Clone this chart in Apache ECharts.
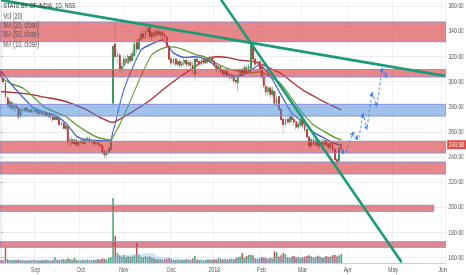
<!DOCTYPE html>
<html><head><meta charset="utf-8">
<script src="https://cdn.jsdelivr.net/npm/echarts@6/dist/echarts.min.js"></script>
<style>
html,body{margin:0;padding:0;background:#fff;overflow:hidden}
#wrap{width:466px;height:275px;overflow:hidden;position:relative}
#c{width:699px;height:275px;transform:scaleX(0.666667);transform-origin:0 0;position:absolute;left:0;top:0}
</style>
</head><body><div id="wrap"><div id="c"></div></div>
<script>
// ---------- data ----------
const title = 'STATE BK OF INDIA, 1D, NSE';
const legendLabels = ['Vol (20)', 'MA (20, close)', 'MA (50, close)', 'MA (10, close)'];
const slotCount = 207; // trading-day slots shown (history + future space)
const monthTickIdx = [16, 37, 57, 79, 99, 121, 140, 161, 182, 205];
const monthTickLabels = ['Sep', 'Oct', 'Nov', 'Dec', '2018', 'Feb', 'Mar', 'Apr', 'May', 'Jun'];
const yTicks = [160, 180, 200, 220, 240, 260, 280, 300, 320, 340, 360];

// [open, close, low, high]
const ohlc = [
[308,304,302,310],[303,300,298,305],[299,288,285,300],[287,281,279,289],[280,284,278,286],
[283,279,277,285],[278,282,276,284],[282,279,276,283],[279,272,270,280],[273,278,271,279],
[278,277,275,281],[277,279,276,280],[279,277,276,281],[277,276,275,279],[276,278,275,279],
[278,276,274,279],[276,277,275,279],[277,275,274,278],[275,276,273,278],[276,274,273,277],
[274,275,272,277],[275,273,272,276],[273,274,271,276],[274,272,270,275],[272,270,268,273],
[270,272,269,274],[272,270,268,273],[270,266,265,271],[266,267,264,269],[267,263,262,268],
[263,265,261,267],[264,252,250,265],[252,254,249,256],[254,251,249,256],[251,253,250,255],
[253,250,248,255],[250,252,248,254],[252,253,250,255],[253,251,249,254],[251,254,250,256],
[254,255,252,257],[255,252,251,256],[252,253,250,255],[253,251,249,254],[251,252,249,253],
[252,250,248,253],[250,249,247,252],[249,244,242,250],[244,242,239,246],[242,244,240,246],
[244,247,242,248],[246,254,245,256],[283,328,280,330],[330,320,316,351],[320,322,314,326],
[321,310,308,323],[310,312,307,315],[313,318,311,320],[318,315,313,321],[315,320,314,322],
[320,317,315,323],[317,322,316,325],[321,330,320,332],[331,326,323,334],[326,334,325,336],
[334,338,332,342],[338,335,333,343],[335,340,334,344],[340,342,338,347],[343,336,335,347],
[336,339,333,341],[339,337,334,341],[337,340,335,342],[340,338,336,342],[338,339,335,341],
[339,337,334,341],[337,336,333,339],[335,328,327,336],[328,318,316,329],[318,315,312,320],
[315,318,313,320],[318,314,312,319],[314,316,312,318],[316,313,311,318],[313,315,311,317],
[315,317,313,319],[317,314,312,318],[314,315,312,317],[315,313,310,317],[313,310,306,316],
[306,318,301,320],[318,316,314,320],[316,314,312,318],[314,317,312,319],[317,315,313,318],
[315,318,314,320],[318,316,314,319],[316,319,315,321],[319,316,314,320],[316,313,311,317],
[313,310,308,314],[310,312,308,314],[312,308,306,313],[308,306,304,310],[306,308,304,310],
[308,305,303,309],[305,303,301,307],[303,304,301,306],[304,301,299,305],[301,300,298,303],
[299,305,293,306],[305,309,304,311],[309,307,305,311],[307,311,306,313],[311,308,306,313],
[308,312,307,314],[310,330,309,333],[330,318,316,333],[318,314,311,320],[314,316,312,318],
[316,310,308,317],[312,304,302,314],[304,297,295,305],[296,292,289,298],[292,295,289,297],
[295,290,287,296],[290,293,288,296],[292,283,281,293],[283,286,280,288],[288,278,276,289],
[278,270,268,279],[270,266,258,272],[266,270,264,272],[270,268,266,274],[268,272,266,275],
[272,270,267,275],[270,268,265,272],[268,264,262,270],[264,266,262,268],[266,270,264,272],
[270,265,263,271],[265,262,260,267],[262,256,255,263],[256,249,247,258],[249,254,246,256],
[254,250,248,256],[250,253,248,255],[253,249,247,255],[249,252,246,254],[252,250,248,254],
[250,253,248,255],[253,250,248,255],[250,248,246,252],[248,251,246,253],[251,246,244,252],
[246,238,236,247],[238,236,234,240],[237,247,235,248],[246,249.9,245,252]
];

const volume = [
9,8,50,12,9,8,10,9,11,8,
9,8,7,9,8,10,8,7,9,8,
9,10,8,7,9,18,10,9,11,12,
10,14,12,9,16,10,9,8,10,9,
11,9,8,10,9,12,10,14,13,11,
16,18,203,84,31,24,20,25,18,22,
19,21,24,62,26,20,18,22,19,21,
17,15,12,11,13,10,12,14,16,12,
10,9,11,8,10,9,12,10,9,14,
22,11,9,10,8,9,11,10,9,12,
10,16,12,11,13,10,12,14,11,15,
18,20,31,16,22,25,26,24,15,13,
14,19,17,15,12,16,14,36,33,20,
24,31,28,18,16,20,22,17,19,15,
18,20,22,24,21,17,19,23,20,16,
18,22,19,20,24,25,21,24,28
];

const maIdx = [0,5,10,15,20,25,30,35,40,45,50,51,52,53,55,57,60,65,70,75,80,85,90,95,100,105,110,115,120,125,130,135,140,145,150,155,158];
const ma10 = [308.6,297.5,287.9,279.1,275.9,273.1,267.2,256.8,253.6,253.2,252.8,253.6,260.8,266.4,281.5,293.5,307,325.3,330.1,333.3,322.9,319.4,319.8,317.8,312.2,306.6,304.2,307.8,313.4,304.6,289.5,275.1,268,260,255.2,250.8,249.6];
const ma20 = [303,298.2,295.1,287.9,279.9,275.9,272.4,265.6,260,255.6,253.6,253.2,256,259.5,265.6,273,284.7,304.6,321.4,326.5,327.7,325.3,321.8,319.4,314.6,310.6,308.6,307,307.8,304.1,298.2,286.7,275.1,265.6,260.4,255.6,253.6];
const ma50 = [292.1,291.5,290.7,289.5,287.7,286.3,284.3,281.1,277.5,272.4,268.4,268,267.6,268.2,270,272,275.1,280.3,286.3,293.5,300.1,306.2,311.8,318.2,319.8,319.4,317.4,316.6,314.6,310.6,306.6,299.8,293.5,288.7,283.9,279.9,277.5];

const volMaIdx = [0,20,40,51,52,54,60,63,71,72,75,80,90,100,110,116,125,135,145,158];
const volMa = [10,10,10,12,21,25,26,29,31,22,19,14,12,11,13,16,17,18,18,19];

// price zones: [bottom, top, rightEndSlot(optional)]
const redZones = [[331.8,347.5],[303.8,309.7],[243.3,252.6],[226.6,236.1],[196.9,201.7,201],[168.3,172.7]];
const blueZones = [[272.7,282.0]];

// trend lines: [[slot, price],[slot, price]]
const trendLines = [[[0,364.9],[206,304.7]], [[102,365.6],[186,156.4]]];

// projected path (dashed arrows)
const projection = [
[[156.0,252.0],[159.3,242.5]],
[[160.2,244.1],[163.5,260.0]],
[[163.5,260.0],[165.8,253.6]],
[[166.2,255.2],[168.1,275.1]],
[[168.1,275.1],[170.0,261.6]],
[[170.0,264.0],[172.3,291.8]],
[[172.3,291.8],[174.6,279.9]],
[[174.6,281.5],[176.9,310.9]],
[[176.9,310.9],[179.2,303.0]]
];

// ---------- build ----------
const FONT = '"Liberation Sans", Arial, sans-serif';
const tickMap = {};
monthTickIdx.forEach((idx, k) => { tickMap[idx] = monthTickLabels[k]; });
const cats = [];
for (let i = 0; i < slotCount; i++) cats.push(String(i));
const isTick = (i) => tickMap[i] !== undefined;

const UP = '#3a9b5c', DOWN = '#b9443f';
const bodies = ohlc.map(([o, c]) => [o, c, Math.min(o, c), Math.max(o, c)]);
const volData = volume.map((v, i) => ({
  value: v,
  itemStyle: { color: ohlc[i][1] >= ohlc[i][0] ? 'rgba(40,160,85,0.9)' : 'rgba(185,60,65,0.9)' }
}));
const pairs = (idx, vals) => idx.map((x, k) => [x, vals[k]]);
const zoneData = (zones) => zones.map(z => [
  { yAxis: z[0] },
  z[2] != null ? { xAxis: z[2], yAxis: z[1] } : { yAxis: z[1] }
]);
const lastClose = ohlc[ohlc.length - 1][1];

const legendTops = [2.2, 12.3, 21.7, 31.0, 41.0];
const graphicTexts = [title].concat(legendLabels).map((t, k) => ({
  type: 'text', left: 5, top: legendTops[k], z: 100,
  style: { text: t, fontSize: k === 0 ? 7.9 : 8.3, fontFamily: FONT, fill: k === 0 ? '#333' : '#555' }
}));

const chart = echarts.init(document.getElementById('c'), null, { renderer: 'canvas' });
chart.setOption({
  animation: false,
  backgroundColor: '#ffffff',
  textStyle: { fontFamily: FONT },
  grid: { left: 0, right: 30.4, top: 0, bottom: 12 },
  graphic: graphicTexts,
  xAxis: [
    {
      type: 'category', data: cats, boundaryGap: true,
      axisLine: { lineStyle: { color: '#cfcfcf' } },
      axisTick: { show: false },
      axisLabel: {
        interval: (i) => isTick(i),
        formatter: (v) => tickMap[+v] || '',
        fontSize: 7.8, color: '#555', margin: 3.2
      },
      splitLine: { show: true, interval: (i) => isTick(i), lineStyle: { color: '#eeeeee', width: 1 } }
    },
    { type: 'value', min: -0.5, max: slotCount - 0.5, show: false }
  ],
  yAxis: [
    {
      type: 'value', position: 'right', min: 155.8, max: 365, splitNumber: 10, scale: true,
      axisLine: { show: true, lineStyle: { color: '#b5b5b5' } },
      axisTick: { show: true, length: 3, customValues: yTicks, lineStyle: { color: '#b5b5b5' } },
      axisLabel: { customValues: yTicks, formatter: (v) => v.toFixed(2), fontSize: 7.5, color: '#555', margin: 4 },
      splitLine: { show: true, lineStyle: { color: '#eeeeee', width: 1 } }
    },
    { type: 'value', min: 0, max: 822, show: false }
  ],
  series: [
    { name: 'Vol', type: 'bar', yAxisIndex: 1, barWidth: '72%', data: volData, z: 1 },
    { name: 'VolMA', type: 'line', xAxisIndex: 1, yAxisIndex: 1, data: pairs(volMaIdx, volMa),
      symbol: 'none', lineStyle: { width: 0 }, areaStyle: { color: 'rgba(120,190,245,0.5)' }, z: 2 },
    { name: 'MA50', type: 'line', xAxisIndex: 1, data: pairs(maIdx, ma50), symbol: 'none', smooth: 0.2,
      lineStyle: { color: '#b3282d', width: 1.4 }, z: 3 },
    { name: 'MA20', type: 'line', xAxisIndex: 1, data: pairs(maIdx, ma20), symbol: 'none', smooth: 0.2,
      lineStyle: { color: '#5c9a2c', width: 1.4 }, z: 3 },
    { name: 'MA10', type: 'line', xAxisIndex: 1, data: pairs(maIdx, ma10), symbol: 'none', smooth: 0.2,
      lineStyle: { color: '#3558c4', width: 1.4 }, z: 3 },
    { name: 'wick', type: 'candlestick', data: ohlc, barWidth: '72%', z: 4,
      itemStyle: { color: '#a3a3a3', color0: '#a3a3a3', borderColor: '#a3a3a3', borderColor0: '#a3a3a3', borderColorDoji: '#a3a3a3', borderWidth: 1 } },
    { name: 'SBIN', type: 'candlestick', data: bodies, barWidth: '72%', z: 5,
      itemStyle: { color: UP, color0: DOWN, borderColor: UP, borderColor0: DOWN, borderColorDoji: UP, borderWidth: 1 },
      markLine: {
        silent: true, symbol: ['none', 'none'], z: 20,
        lineStyle: { width: 0, color: 'rgba(0,0,0,0)' },
        label: { show: true, position: 'end', distance: 2, formatter: lastClose.toFixed(2),
          color: '#fff', backgroundColor: '#e0514d', padding: [1, 3, 0, 3], fontSize: 7.5, lineHeight: 8 },
        data: [{ yAxis: lastClose }]
      }
    },
    { name: 'redZones', type: 'line', xAxisIndex: 1, data: [], z: 6,
      markArea: { silent: true, z: 6,
        itemStyle: { color: 'rgba(214,48,52,0.58)', borderColor: '#8c8fd8', borderWidth: 1 },
        data: zoneData(redZones) } },
    { name: 'blueZones', type: 'line', xAxisIndex: 1, data: [], z: 6,
      markArea: { silent: true, z: 6,
        itemStyle: { color: 'rgba(70,140,215,0.52)', borderColor: '#8c8fd8', borderWidth: 1 },
        data: zoneData(blueZones) } },
    { name: 'trendA', type: 'line', xAxisIndex: 1, data: trendLines[0], symbol: 'none', z: 8,
      lineStyle: { color: '#1d9a77', width: 2.7 } },
    { name: 'trendB', type: 'line', xAxisIndex: 1, data: trendLines[1], symbol: 'none', z: 8,
      lineStyle: { color: '#1d9a77', width: 3.2 } },
    { name: 'projection', type: 'line', xAxisIndex: 1, data: [], z: 9,
      markLine: { silent: true, z: 9, symbol: ['none', 'arrow'], symbolSize: 5, label: { show: false },
        lineStyle: { color: '#3f7fe6', width: 1.2, type: [3, 2] },
        data: projection.map(s => [{ coord: s[0] }, { coord: s[1] }]) } }
  ]
});
</script>
</body></html>
